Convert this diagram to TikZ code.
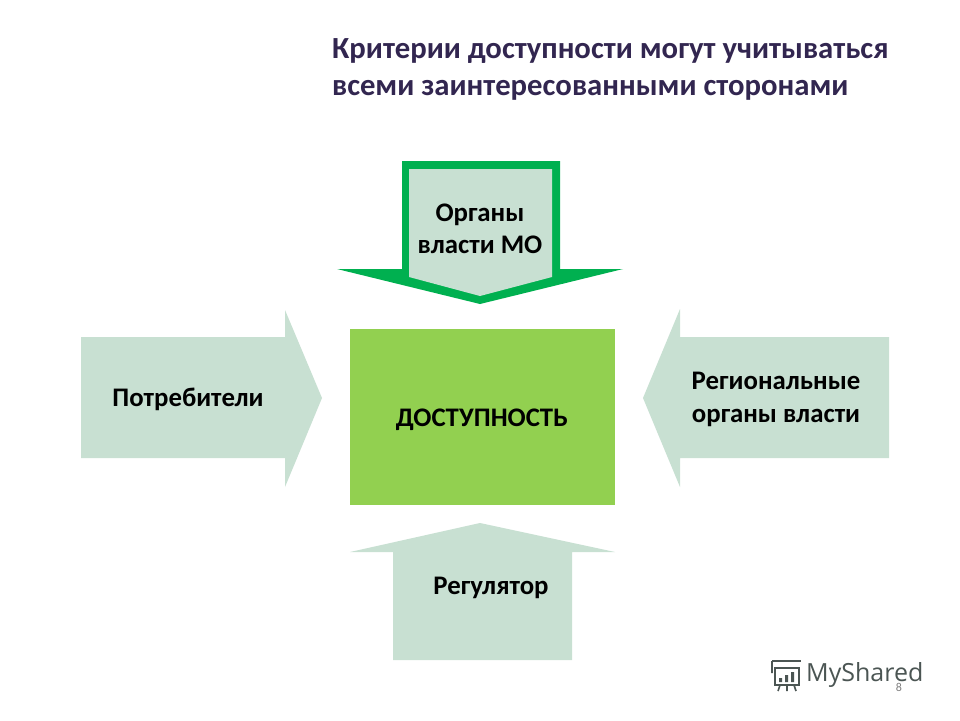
\documentclass[tikz,border=0pt]{standalone}
\usepackage{fontspec}
\setmainfont{Carlito}
\newfontfamily\logofont{Open Sans}
\usetikzlibrary{positioning}
\begin{document}
\begin{tikzpicture}[x=1pt,y=-1pt]
            % Цвета
            \definecolor{arrowfill}{RGB}{200,224,210}
            \definecolor{arrowline}{RGB}{0,176,80}
            \definecolor{centerfill}{RGB}{146,208,80}
            \definecolor{titlecolor}{RGB}{50,38,80}
            \definecolor{logocolor}{RGB}{75,85,83}
            \tikzset{
                labeltext/.style={font=\fontsize{26.8}{32.5}\selectfont\bfseries, align=center, text=black},
                arrowshape/.style={fill=arrowfill, draw=none},
                logoline/.style={draw=logocolor, line width=1.6pt}
            }
            \useasboundingbox (0,0) rectangle (960,720);
            \fill[white] (0,0) rectangle (960,720);

            % Заголовок
            \node[anchor=west, inner sep=0pt, align=left, text=titlecolor, font=\fontsize{30.7}{37}\selectfont\bfseries] (title) at (332,69.5) {Критерии доступности могут учитываться\\всеми заинтересованными сторонами};

            % Стрелки
            \fill[arrowline] (402,161) -- (560,161) -- (560,269) -- (623,269) -- (480,304) -- (337,269) -- (402,269) -- cycle;
            \fill[arrowshape] (409,169) -- (552,169) -- (552,277) -- (480,296) -- (409,277) -- cycle;
            \fill[arrowshape] (81,337) -- (285,337) -- (285,310) -- (322,398) -- (285,487) -- (285,458) -- (81,458) -- cycle;
            \fill[arrowshape] (889,337) -- (680,337) -- (680,309) -- (643,398) -- (680,487) -- (680,458) -- (889,458) -- cycle;
            \fill[arrowshape] (393,660) -- (572,660) -- (572,552) -- (615,552) -- (480,523) -- (350,552) -- (393,552) -- cycle;

            % Центр
            \node[minimum width=265pt, minimum height=176pt, fill=centerfill, labeltext] (center) at (482.5,417) {};
            \node[labeltext] (access) at (482,420) {ДОСТУПНОСТЬ};

            % Текст
            \node[labeltext] (authmo) at (480,229) {Органы\\власти МО};
            \node[labeltext] (consumers) at (188,399) {Потребители};
            \node[labeltext] (regional) at (776,399.5) {Региональные\\органы власти};
            \node[labeltext] (regulator) at (491,588) {Регулятор};

            % Логотип
            \draw[logoline] (772,661) -- (801,661) (775,668) -- (799,668) -- (799,685) -- (775,685) -- cycle;
            \draw[logoline] (772,661) -- (772,673) (780,685) -- (778,691) (787,685) -- (787,691) (794,685) -- (796,691);
            \fill[logocolor] (779,678) rectangle (782,682) (785,675) rectangle (788,682) (791,672) rectangle (794,682);
            \node[anchor=west, inner sep=0pt, text=logocolor, font=\logofont\fontsize{25}{28}\selectfont] (logo) at (806,675) {MyShared};
            \node[text=gray, font=\fontsize{12}{14}\selectfont, inner sep=0pt] (pagenum) at (899,687) {8};
        \end{tikzpicture}
\end{document}
